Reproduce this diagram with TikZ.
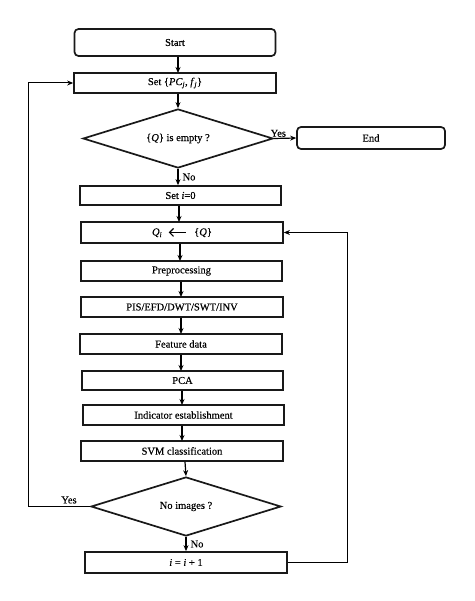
\documentclass[tikz,border=0pt]{standalone}
\usepackage{fontspec}
\setmainfont{Liberation Serif}[FakeBold=0.3]
\usetikzlibrary{shapes.geometric,arrows.meta}
\newcommand{\leftarr}{\tikz[baseline=-0.6ex]\draw[line width=1.1pt,-{Straight Barb[length=4pt,width=8pt]}] (17pt,0) -- (0,0);}
\begin{document}
\begin{tikzpicture}[x=1pt,y=-1pt,
  font=\fontsize{10.5}{12}\selectfont,
  box/.style={draw=black!90, line width=1.7pt, inner sep=0pt, minimum width=201pt, minimum height=20pt},
  rbox/.style={box, rounded corners=4pt},
  dec/.style={draw=black!90, line width=1.7pt, shape=diamond, inner sep=0pt, aspect=3.2, minimum width=190pt, minimum height=59pt},
  conn/.style={line width=1.2pt, -{Stealth[length=6pt,width=5pt]}},
  loopline/.style={line width=1pt, -{Stealth[length=6pt,width=5pt]}},
  lbl/.style={inner sep=1pt}]
\useasboundingbox (0,0) rectangle (474,601);
\fill[white] (0,0) rectangle (474,601);

\node[rbox, minimum height=27pt] (start) at (175,42.5) {Start};
\node[box, minimum width=202pt] (setpc) at (175,83) {Set \{\textit{PC}\textsubscript{\textit{j}}, \textit{f}\textsubscript{\textit{j}}\}};
\node[dec] (empty) at (178,138.5) {\{\textit{Q}\} is empty ?};
\node[rbox, minimum width=148pt, minimum height=22pt] (end) at (371,138) {End};
\node[box, minimum height=19pt] (seti) at (180.5,195.5) {Set \textit{i}=0};
\node[box, minimum width=202pt, minimum height=21pt] (qi) at (182,232.5) {\textit{Q}\textsubscript{\textit{i}}\hspace{6pt}\leftarr\hspace{8pt}\{\textit{Q}\}};
\node[box] (prep) at (181.5,271) {Preprocessing};
\node[box, minimum width=202pt] (pis) at (182,307) {PIS/EFD/DWT/SWT/INV};
\node[box, minimum width=202pt] (feat) at (181,344) {Feature data};
\node[box, minimum height=19pt] (pca) at (182.5,380.5) {PCA};
\node[box] (ind) at (183.5,415) {Indicator establishment};
\node[box, minimum width=202pt] (svm) at (182,451) {SVM classification};
\node[dec] (noimg) at (186,506.5) {No images ?};
\node[box, minimum width=202pt, minimum height=21pt] (inc) at (186,562.5) {\textit{i} = \textit{i} + 1};

\coordinate (lcorner) at (28,506.5);
\coordinate (ltop) at (28,83);
\coordinate (rbot) at (347,562.5);
\coordinate (rtop) at (347,232.5);

\draw[conn] (start.south -| 178,0) -- (178,73);
\draw[conn] (setpc.south -| 178,0) -- (empty.north);
\draw[conn] (empty.east) -- (end.west) node[lbl, pos=0.2, above] {Yes};
\draw[conn] (empty.south) -- (empty.south |- seti.north) node[lbl, midway, right=3pt] {No};
\draw[conn] (seti.south -| 179,0) -- (179,222);
\draw[conn] (qi.south -| 180,0) -- (180,261);
\draw[conn] (prep.south -| 181,0) -- (181,297);
\draw[conn] (pis.south -| 181,0) -- (181,334);
\draw[conn] (feat.south -| 181,0) -- (181,371);
\draw[conn] (pca.south -| 182,0) -- (182,405);
\draw[conn] (ind.south -| 182,0) -- (182,441);
\draw[conn] (svm.south -| 185,0) -- (noimg.north);
\draw[conn] (noimg.south) -- (noimg.south |- inc.north) node[lbl, midway, right=3pt] {No};

\draw[loopline] (noimg.west) -- (lcorner) -- (ltop) -- (setpc.west);
\node[lbl] (yes2) at (69,500) {Yes};
\draw[loopline] (inc.east) -- (rbot) -- (rtop) -- (qi.east);
\end{tikzpicture}
\end{document}
